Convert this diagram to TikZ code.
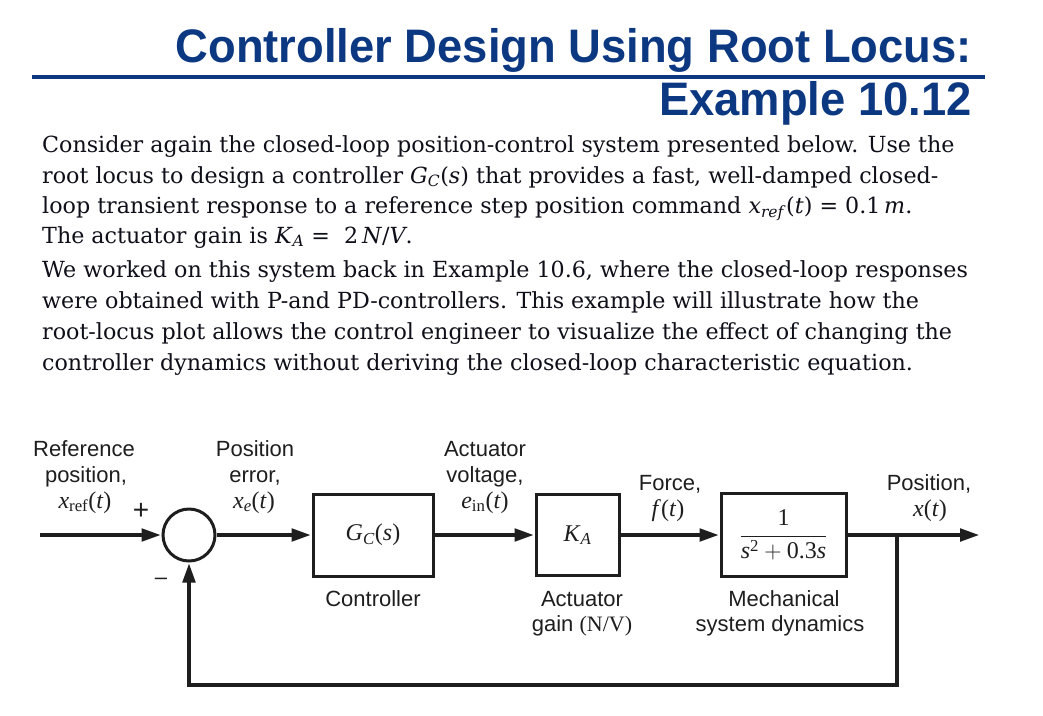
\RequirePackage{fix-cm}
\documentclass[tikz,border=0pt]{standalone}
\usepackage{amsmath}
\usepackage{fontspec}
\usetikzlibrary{arrows.meta}
\setmainfont{DejaVu Serif}
\newfontfamily\titlefont{Liberation Sans}
\newfontfamily\lblfont{Liberation Sans}
\newfontfamily\tmsfont{Liberation Serif}
\definecolor{navy}{RGB}{12,56,130}
\definecolor{ink}{RGB}{30,30,30}
\definecolor{bodyink}{RGB}{15,15,25}
\tikzset{
  titletext/.style={anchor=base east, inner sep=0pt, text=navy, font=\titlefont\bfseries\fontsize{47}{52}\selectfont},
  bodytext/.style={anchor=base west, inner sep=0pt, text=bodyink, font=\fontsize{22.2}{26}\selectfont},
  lbl/.style={anchor=base, inner sep=0pt, text=ink, font=\lblfont\fontsize{22}{26}\selectfont},
  mlbl/.style={anchor=base, inner sep=0pt, text=ink, font=\tmsfont\fontsize{24}{28}\selectfont},
  blk/.style={draw=ink, line width=3pt, rectangle, inner sep=0pt, text=ink, font=\tmsfont\fontsize{24}{28}\selectfont},
  sumnode/.style={draw=ink, line width=3pt, circle, minimum size=52pt, inner sep=0pt},
  sig/.style={draw=ink, line width=4.7pt},
  arr/.style={sig, -{Triangle[length=20pt,width=12pt]}}
}
\begin{document}
\begin{tikzpicture}[x=1pt,y=-1pt]
\useasboundingbox (0,0) rectangle (1043,715);
\fill[white] (0,0) rectangle (1043,715);
% Title
\node[titletext] (t1) at (972,62) {\scalebox{0.965}[1]{Controller Design Using Root Locus:}};
\coordinate (rl) at (32,77);
\coordinate (rr) at (985,77);
\draw[navy, line width=4pt] (rl) -- (rr);
\node[titletext] (t2) at (972,115) {\scalebox{0.965}[1]{Example 10.12}};
% Body
\node[bodytext] (b1) at (42,152) {Consider again the closed-loop position-control system presented below. Use the};
\node[bodytext] (b2) at (42,183) {root locus to design a controller \textit{G}\textsubscript{\textit{C}}(\textit{s}) that provides a fast, well-damped closed-};
\node[bodytext] (b3) at (42,213) {loop transient response to a reference step position command \textit{x}\textsubscript{\textit{ref}}(\textit{t}) = 0.1\,\textit{m}.};
\node[bodytext] (b4) at (42,243) {The actuator gain is \textit{K}\textsubscript{\textit{A}} =\ \ 2\,\textit{N}/\textit{V}.};
\node[bodytext] (b5) at (42,277) {We worked on this system back in Example 10.6, where the closed-loop responses};
\node[bodytext] (b6) at (42,308) {were obtained with P-and PD-controllers. This example will illustrate how the};
\node[bodytext] (b7) at (42,339) {root-locus plot allows the control engineer to visualize the effect of changing the};
\node[bodytext] (b8) at (42,370) {controller dynamics without deriving the closed-loop characteristic equation.};
% Diagram blocks
\node[sumnode] (sum) at (189,535) {};
\node[blk, minimum width=120pt, minimum height=82pt] (gc) at (373,535) {\textit{G}\textsubscript{\textit{C}}(\textit{s})};
\node[blk, minimum width=83pt, minimum height=81pt] (ka) at (577.5,535) {\textit{K}\textsubscript{\textit{A}}};
\node[blk, minimum width=125pt, minimum height=83pt] (mech) at (783.5,535) {$\dfrac{\text{1}}{\textit{s}^{\text{2}} + \text{0.3}\textit{s}}$};
% Connectors
\coordinate (in) at (40,535);
\coordinate (out) at (980,535);
\coordinate (br) at (897,535);
\coordinate (fb) at (897,685);
\draw[arr] (in) -- (sum.west);
\draw[arr] (sum.east) -- (gc.west);
\draw[arr] (gc.east) -- (ka.west);
\draw[arr] (ka.east) -- (mech.west);
\draw[arr] (mech.east) -- (out);
\draw[arr] (br) -- (fb) -| (sum.south);
% Labels
\node[lbl] (r1) at (84,456) {Reference};
\node[lbl] (r2) at (86,482) {position,};
\node[mlbl] (r3) at (85,508) {\textit{x}\textsubscript{ref}(\textit{t})};
\node[lbl, anchor=center, font=\lblfont\fontsize{28}{30}\selectfont] (plus) at (141,511) {+};
\node[lbl, anchor=center] (minus) at (161,581) {\textendash};
\node[lbl] (p1) at (255,456) {Position};
\node[lbl] (p2) at (255,482) {error,};
\node[mlbl] (p3) at (254,508) {\textit{x}\textsubscript{\textit{e}}(\textit{t})};
\node[lbl] (a1) at (485,456) {Actuator};
\node[lbl] (a2) at (485,482) {voltage,};
\node[mlbl] (a3) at (485,508) {\textit{e}\textsubscript{in}(\textit{t})};
\node[lbl] (f1) at (670,490) {Force,};
\node[mlbl] (f2) at (668,516) {\textit{f}(\textit{t})};
\node[lbl] (o1) at (929,490) {Position,};
\node[mlbl] (o2) at (930,516) {\textit{x}(\textit{t})};
\node[lbl] (c1) at (373,606) {Controller};
\node[lbl] (g1) at (582,606) {Actuator};
\node[lbl] (g2) at (582,631) {gain {\tmsfont (N/V)}};
\node[lbl] (m1) at (784,606) {Mechanical};
\node[lbl] (m2) at (780,631) {system dynamics};
\end{tikzpicture}
\end{document}
